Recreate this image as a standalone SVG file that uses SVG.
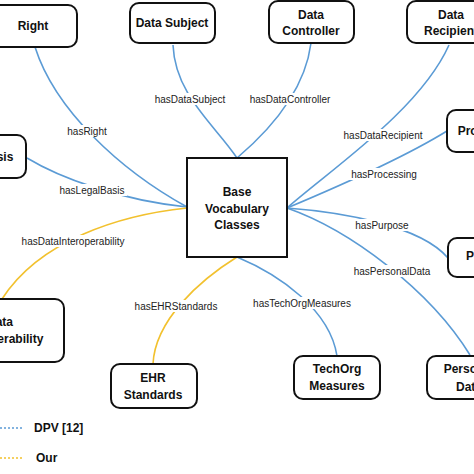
<svg xmlns="http://www.w3.org/2000/svg" width="474" height="474" viewBox="0 0 474 474">
<style>
.node rect{fill:#fff;stroke:#111;stroke-width:2}
.node text{font-family:"Liberation Sans",Arial,sans-serif;font-size:12px;font-weight:bold;fill:#111;text-anchor:middle}
.c{fill:none;stroke-width:1.6}
.b{stroke:#5b9bd5}
.y{stroke:#f2c12e}
.lbl rect{fill:#fff}
.lbl text{font-family:"Liberation Sans",Arial,sans-serif;font-size:10px;fill:#222;text-anchor:middle}
.leg{font-family:"Liberation Sans",Arial,sans-serif;font-size:12px;font-weight:bold;fill:#111}
</style>
<rect width="474" height="474" fill="#fff"/>
<g id="connectors">
<path class="c b" d="M35,47 C55,110 120,170 187,207"/>
<path class="c b" d="M173,45 C175,95 215,125 237,158"/>
<path class="c b" d="M27,158 C60,178 120,200 187,207"/>
<path class="c y" d="M187,208 C120,215 40,240 2,299"/>
<path class="c b" d="M311,43 C305,90 270,130 237,158"/>
<path class="c b" d="M449,45 C420,110 330,170 287,208"/>
<path class="c b" d="M447,131 C400,160 330,190 287,208"/>
<path class="c b" d="M287,208 C340,212 420,225 448,258"/>
<path class="c b" d="M287,208 C350,230 430,290 470,355"/>
<path class="c b" d="M237,257 C280,275 330,310 337,356"/>
<path class="c y" d="M237,257 C200,280 155,320 153,364"/>
<g class="lbl">
<rect x="150" y="93" width="80" height="12"/><text x="190" y="103">hasDataSubject</text>
<rect x="64" y="125" width="46" height="12"/><text x="87" y="135">hasRight</text>
<rect x="57" y="184" width="70" height="12"/><text x="92" y="194">hasLegalBasis</text>
<rect x="13" y="235" width="120" height="12"/><text x="73" y="245">hasDataInteroperability</text>
<rect x="245" y="93" width="90" height="12"/><text x="290" y="103">hasDataController</text>
<rect x="339" y="129" width="88" height="12"/><text x="383" y="139">hasDataRecipient</text>
<rect x="347" y="168" width="74" height="12"/><text x="384" y="178">hasProcessing</text>
<rect x="351" y="219" width="62" height="12"/><text x="382" y="229">hasPurpose</text>
<rect x="349" y="265" width="86" height="12"/><text x="392" y="275">hasPersonalData</text>
<rect x="250" y="297" width="104" height="12"/><text x="302" y="307">hasTechOrgMeasures</text>
<rect x="132" y="300" width="88" height="12"/><text x="176" y="310">hasEHRStandards</text>
</g>
</g>
<g id="base" class="node"><rect x="187" y="158" width="100" height="99" rx="0"/><text x="237" y="196">Base</text><text x="237" y="213">Vocabulary</text><text x="237" y="229">Classes</text></g>
<g id="right" class="node"><rect x="-11" y="5" width="88" height="42" rx="9"/><text x="33" y="30">Right</text></g>
<g id="datasubject" class="node"><rect x="130" y="3" width="85" height="40" rx="9"/><text x="172" y="27">Data Subject</text></g>
<g id="datacontroller" class="node"><rect x="269" y="1" width="85" height="42" rx="9"/><text x="311" y="19">Data</text><text x="311" y="35">Controller</text></g>
<g id="datarecipient" class="node"><rect x="407" y="1" width="88" height="42" rx="9"/><text x="451" y="19">Data</text><text x="451" y="35">Recipient</text></g>
<g id="legalbasis" class="node"><rect x="-66" y="135" width="92" height="43" rx="9"/><text x="-20" y="161">Legal Basis</text></g>
<g id="processing" class="node"><rect x="447" y="110" width="80" height="42" rx="9"/><text x="490" y="135">Processing</text></g>
<g id="purpose" class="node"><rect x="448" y="238" width="80" height="39" rx="9"/><text x="490" y="260">Purpose</text></g>
<g id="personaldata" class="node"><rect x="427" y="356" width="84" height="43" rx="9"/><text x="469" y="373">Personal</text><text x="469" y="391">Data</text></g>
<g id="techorg" class="node"><rect x="294" y="356" width="86" height="43" rx="9"/><text x="337" y="373">TechOrg</text><text x="337" y="390">Measures</text></g>
<g id="ehr" class="node"><rect x="111" y="364" width="86" height="44" rx="9"/><text x="153" y="382">EHR</text><text x="153" y="399">Standards</text></g>
<g id="datainterop" class="node"><rect x="-64" y="299" width="128" height="63" rx="9"/><text x="0" y="326">Data</text><text x="0" y="343">Interoperability</text></g>
<g id="legend">
<line x1="0" y1="428" x2="22" y2="428" stroke="#5b9bd5" stroke-width="1.5" stroke-dasharray="2,2"/>
<text class="leg" x="34" y="432">DPV [12]</text>
<line x1="0" y1="458" x2="22" y2="458" stroke="#f2c12e" stroke-width="1.5" stroke-dasharray="2,2"/>
<text class="leg" x="36" y="462">Our</text>
</g>
</svg>
